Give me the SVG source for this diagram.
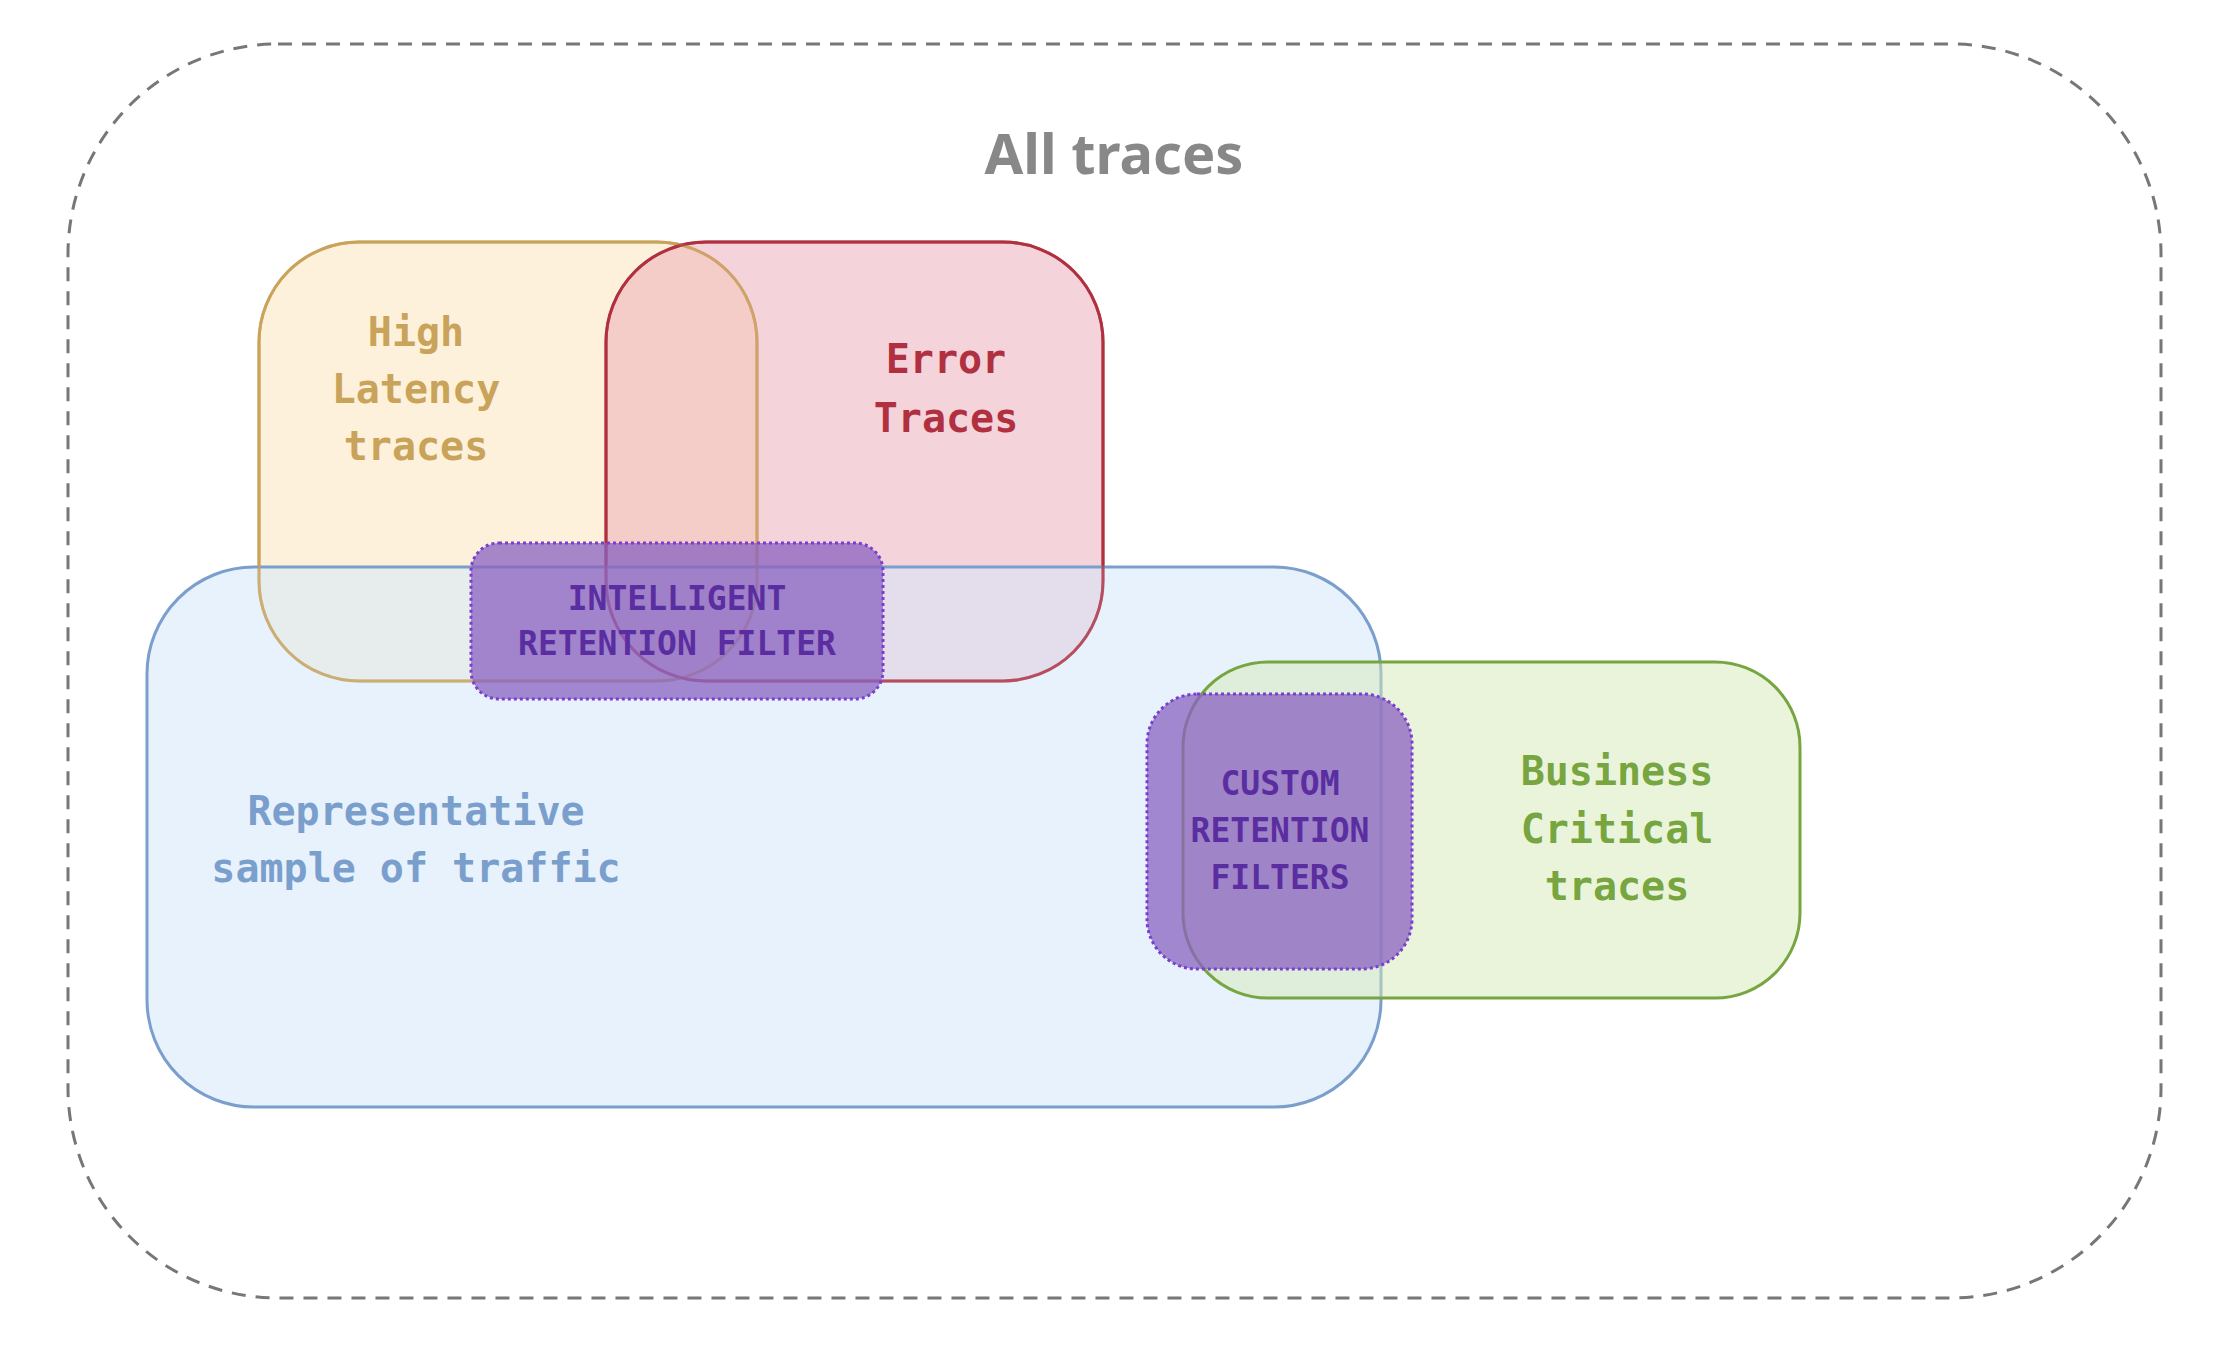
<svg xmlns="http://www.w3.org/2000/svg" width="2222" height="1356" viewBox="0 0 2222 1356">
<style>
.t{font-family:"DejaVu Sans Mono","Liberation Mono",monospace;font-weight:bold;font-size:40px;text-anchor:middle}
.s{font-size:33px}
.p{fill:#8a62c0;fill-opacity:0.75;stroke:#7a3fd0;stroke-width:3;stroke-dasharray:3 3}
</style>
<rect width="2222" height="1356" fill="#fff"/>
<g id="all"><rect x="68" y="44" width="2093" height="1254" rx="210" fill="none" stroke="#777" stroke-width="3" stroke-dasharray="14 10"/>
<text x="1114" y="174" font-family="'Noto Sans','Open Sans',sans-serif" font-weight="bold" font-size="56" fill="#888" text-anchor="middle">All traces</text></g>
<g id="latency"><rect x="259" y="242" width="498" height="439" rx="100" fill="#fbe3b8" fill-opacity="0.5" stroke="#c9a35a" stroke-width="3"/></g>
<g id="error"><rect x="606" y="242" width="497" height="439" rx="100" fill="#eca8b5" fill-opacity="0.5" stroke="#b03040" stroke-width="3"/></g>
<g id="sample"><rect x="147" y="567" width="1234" height="540" rx="107" fill="#d6e8fb" fill-opacity="0.55" stroke="#7b9fcc" stroke-width="3"/></g>
<g fill="none" stroke-width="3" stroke-opacity="0.7"><rect x="259" y="242" width="498" height="439" rx="100" stroke="#c9a35a"/><rect x="606" y="242" width="497" height="439" rx="100" stroke="#b03040"/></g>
<g id="business"><rect x="1183" y="662" width="617" height="336" rx="85" fill="#d3eab8" fill-opacity="0.5" stroke="#77a540" stroke-width="3"/></g>
<text class="t" fill="#c9a35a"><tspan x="416" y="346">High</tspan><tspan x="416" y="403">Latency</tspan><tspan x="416" y="460">traces</tspan></text>
<text class="t" fill="#b03040"><tspan x="946" y="373">Error</tspan><tspan x="946" y="432">Traces</tspan></text>
<text class="t" fill="#7b9fcc"><tspan x="416" y="825">Representative</tspan><tspan x="416" y="882">sample of traffic</tspan></text>
<text class="t" fill="#77a540"><tspan x="1617" y="785">Business</tspan><tspan x="1617" y="843">Critical</tspan><tspan x="1617" y="900">traces</tspan></text>
<g id="intelligent"><rect class="p" x="471" y="543" width="412" height="156" rx="28"/>
<text class="t s" fill="#5a2ea0"><tspan x="677" y="610">INTELLIGENT</tspan><tspan x="677" y="655">RETENTION FILTER</tspan></text></g>
<g id="custom"><rect class="p" x="1147" y="694" width="265" height="275" rx="50"/>
<text class="t s" fill="#5a2ea0"><tspan x="1280" y="795">CUSTOM</tspan><tspan x="1280" y="842">RETENTION</tspan><tspan x="1280" y="889">FILTERS</tspan></text></g>
<g id="connectors"/>
</svg>
